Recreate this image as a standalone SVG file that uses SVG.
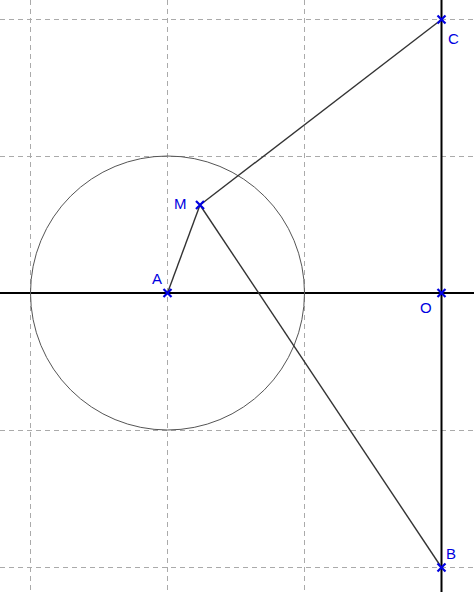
<svg xmlns="http://www.w3.org/2000/svg" width="474" height="592" viewBox="0 0 474 592">
<style>
.grid{stroke:#aaa;stroke-width:1;stroke-dasharray:5 4;fill:none}
.axis{stroke:#000;stroke-width:2;fill:none}
.seg{stroke:#333;stroke-width:1.4;fill:none}
.pt{stroke:#0000e0;stroke-width:2.2;fill:none}
.lbl{font-family:"Liberation Sans",Arial,sans-serif;font-size:15px;fill:#0000e0}
</style>
<rect width="474" height="592" fill="#fff"/>
<g id="grid">
<line class="grid" x1="30.5" y1="0" x2="30.5" y2="592"/>
<line class="grid" x1="167.5" y1="0" x2="167.5" y2="592"/>
<line class="grid" x1="304.5" y1="0" x2="304.5" y2="592"/>
<line class="grid" x1="0" y1="19.5" x2="474" y2="19.5"/>
<line class="grid" x1="0" y1="156.5" x2="474" y2="156.5"/>
<line class="grid" x1="0" y1="430.5" x2="474" y2="430.5"/>
<line class="grid" x1="0" y1="567.5" x2="474" y2="567.5"/>
</g>
<g id="axes">
<line class="axis" x1="0" y1="293" x2="474" y2="293"/>
<line class="axis" x1="441.5" y1="0" x2="441.5" y2="592"/>
</g>
<g id="circle">
<circle cx="167.5" cy="293" r="137" fill="none" stroke="#555" stroke-width="1"/>
</g>
<g id="connectors">
<line class="seg" x1="167.5" y1="293" x2="200" y2="205"/>
<line class="seg" x1="200" y1="205" x2="441.5" y2="19.5"/>
<line class="seg" x1="200" y1="205" x2="441.5" y2="567.5"/>
</g>
<g id="A"><path class="pt" d="M163.5 289 l8 8 M171.5 289 l-8 8"/><text class="lbl" x="152" y="284">A</text></g>
<g id="M"><path class="pt" d="M196 201 l8 8 M204 201 l-8 8"/><text class="lbl" x="174" y="209">M</text></g>
<g id="C"><path class="pt" d="M437.5 15.5 l8 8 M445.5 15.5 l-8 8"/><text class="lbl" x="448" y="44">C</text></g>
<g id="O"><path class="pt" d="M437.5 289 l8 8 M445.5 289 l-8 8"/><text class="lbl" x="420" y="313">O</text></g>
<g id="B"><path class="pt" d="M437.5 563.5 l8 8 M445.5 563.5 l-8 8"/><text class="lbl" x="446" y="559">B</text></g>
</svg>
